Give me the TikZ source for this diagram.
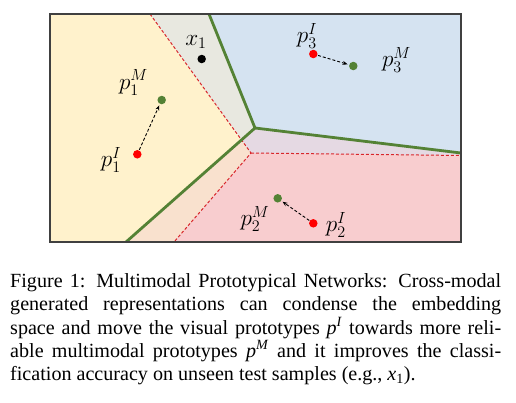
\documentclass[tikz,border=0pt]{standalone}
\usepackage{fontspec}
\setmainfont{Liberation Serif}
\usepackage{graphicx}
\usetikzlibrary{arrows.meta}
\definecolor{cyel}{HTML}{FFF2CC}
\definecolor{cblue}{HTML}{D5E3F1}
\definecolor{cpink}{HTML}{F8CDCF}
\definecolor{cgray}{HTML}{E8E8E0}
\definecolor{cpeach}{HTML}{F9E1CE}
\definecolor{clav}{HTML}{E5D9E3}
\definecolor{cgreen}{HTML}{548235}
\definecolor{cred}{HTML}{D8262B}
\definecolor{cframe}{HTML}{404040}
\newcommand{\mylab}[1]{\scalebox{1.12}{$#1$}}
\begin{document}
\begin{tikzpicture}[x=1pt,y=-1pt,
  gline/.style={cgreen,line width=2.8pt,line join=round},
  rline/.style={cred,line width=1pt,dash pattern=on 3pt off 2pt},
  dot/.style={circle,inner sep=0pt,minimum size=8.5pt},
  lab/.style={inner sep=0pt,font=\fontsize{20.74}{24}\selectfont},
  mv/.style={draw=black,line width=0.9pt,dash pattern=on 3pt off 2pt,-{Stealth[length=5pt,width=4pt]},shorten >=1.5pt,shorten <=0.5pt},
  capline/.style={anchor=base west,inner sep=0pt,font=\fontsize{20.1}{23.35}\selectfont}]
\useasboundingbox (0,0) rectangle (516,402);
\fill[white] (0,0) rectangle (516,402);
% key points
\coordinate (TL) at (50,14);
\coordinate (TR) at (461,14);
\coordinate (BR) at (461,242);
\coordinate (BL) at (50,242);
\coordinate (GT) at (209,14);
\coordinate (GJ) at (255,128);
\coordinate (GB) at (126,242);
\coordinate (GR) at (461,153);
\coordinate (RT) at (150,14);
\coordinate (RJ) at (251,153);
\coordinate (RB) at (174,242);
\coordinate (RR) at (461,155.5);
\coordinate (X) at (241.5,139.9);
% regions
\fill[cyel] (TL) -- (RT) -- (X) -- (GB) -- (BL) -- cycle;
\fill[cgray] (RT) -- (GT) -- (GJ) -- (X) -- cycle;
\fill[cpeach] (X) -- (RJ) -- (RB) -- (GB) -- cycle;
\fill[clav] (X) -- (GJ) -- (GR) -- (RR) -- (RJ) -- cycle;
\fill[cblue] (GT) -- (TR) -- (GR) -- (GJ) -- cycle;
\fill[cpink] (RJ) -- (RR) -- (BR) -- (RB) -- cycle;
% boundaries
\draw[rline] (RT) -- (RJ) -- (RB);
\draw[rline] (RJ) -- (RR);
\draw[gline] (GT) -- (GJ) -- (GB);
\draw[gline] (GJ) -- (GR);
\draw[cframe,line width=1.5pt] (TL) rectangle (BR);
% points
\node[dot,fill=black] (x1) at (201.7,59) {};
\node[dot,fill=cgreen] (p1M) at (161.7,100) {};
\node[dot,fill=red] (p1I) at (137.3,154.3) {};
\node[dot,fill=cgreen] (p2M) at (277.7,198.3) {};
\node[dot,fill=red] (p2I) at (313.3,223.3) {};
\node[dot,fill=red] (p3I) at (313.3,54) {};
\node[dot,fill=cgreen] (p3M) at (353.3,66) {};
% moves
\draw[mv] (p1I) -- (p1M);
\draw[mv] (p2I) -- (p2M);
\draw[mv] (p3I) -- (p3M);
% labels
\node[lab] (lx1) at (196,42) {\mylab{x_1}};
\node[lab] (l1M) at (133.5,82.5) {\mylab{p_1^M}};
\node[lab] (l1I) at (111,160) {\mylab{p_1^I}};
\node[lab] (l2M) at (255,219) {\mylab{p_2^M}};
\node[lab] (l2I) at (336,225) {\mylab{p_2^I}};
\node[lab] (l3I) at (307,36) {\mylab{p_3^I}};
\node[lab] (l3M) at (396.5,60) {\mylab{p_3^M}};
% caption
\node[capline] (c1) at (10,287.3) {\makebox[491pt][s]{Figure 1: Multimodal Prototypical Networks: Cross-modal}};
\node[capline] (c2) at (10,310.65) {\makebox[491pt][s]{generated representations can condense the embedding}};
\node[capline] (c3) at (10,334) {\makebox[491pt][s]{space and move the visual prototypes \textit{p}\textsuperscript{\textit{I}} towards more reli-}};
\node[capline] (c4) at (10,357.35) {\makebox[491pt][s]{able multimodal prototypes \textit{p}\textsuperscript{\textit{M}} and it improves the classi-}};
\node[capline] (c5) at (10,380.7) {fication accuracy on unseen test samples (e.g., \textit{x}\textsubscript{1}).};
\end{tikzpicture}
\end{document}
